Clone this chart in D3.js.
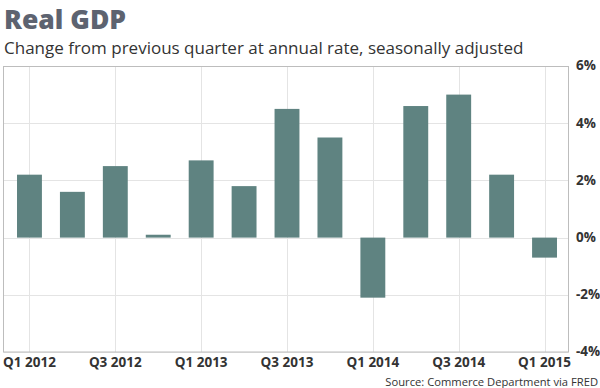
<!DOCTYPE html>
<html>
<head>
  <meta charset="utf-8">
  <script src="https://d3js.org/d3.v7.min.js"></script>
  <style>
    body {
      margin: 0;
      background: #fff;
      font-family: "Open Sans", sans-serif;
    }
    .title { font-weight: 800; fill: #5d6370; }
    .subtitle { fill: #333; }
    .tick-label { font-weight: 700; fill: #333; font-size: 13.5px; }
    .source { fill: #333; font-size: 11.2px; }
  </style>
</head>
<body>
<script>
  // quarters and annualized change in real GDP (%)
  var quarters = ["Q1 2012", "Q2 2012", "Q3 2012", "Q4 2012",
                  "Q1 2013", "Q2 2013", "Q3 2013", "Q4 2013",
                  "Q1 2014", "Q2 2014", "Q3 2014", "Q4 2014",
                  "Q1 2015"];
  var growth = [2.2, 1.6, 2.5, 0.1, 2.7, 1.8, 4.5, 3.5, -2.1, 4.6, 5.0, 2.2, -0.7];
  var yTicks = [6, 4, 2, 0, -2, -4];
  var xTicks = ["Q1 2012", "Q3 2012", "Q1 2013", "Q3 2013", "Q1 2014", "Q3 2014", "Q1 2015"];

  var w = 600, h = 388;
  var plot = { left: 3.5, right: 568.5, top: 66, bottom: 352 };

  var svg = d3.select("body").append("svg")
    .attr("width", w)
    .attr("height", h);

  // titles
  svg.append("text").attr("class", "title")
    .attr("x", 4).attr("y", 29)
    .style("font-size", "26.5px")
    .text("Real GDP");

  svg.append("text").attr("class", "subtitle")
    .attr("x", 4).attr("y", 54)
    .style("font-size", "17px")
    .text("Change from previous quarter at annual rate, seasonally adjusted");

  var x = d3.scaleBand()
    .domain(quarters)
    .range([8, 566])
    .paddingInner(0.42)
    .paddingOuter(0.21);

  var y = d3.scaleLinear()
    .domain([-4, 6])
    .range([plot.bottom, plot.top]);

  // horizontal gridlines
  svg.append("g").selectAll("line")
    .data(yTicks)
    .join("line")
    .attr("x1", plot.left).attr("x2", plot.right)
    .attr("y1", function(d) { return Math.round(y(d)) + 0.5; })
    .attr("y2", function(d) { return Math.round(y(d)) + 0.5; })
    .attr("stroke", "#e4e4e4");

  // vertical gridlines at the labelled quarters
  svg.append("g").selectAll("line")
    .data(xTicks)
    .join("line")
    .attr("x1", function(d) { return Math.round(x(d) + x.bandwidth() / 2) + 0.5; })
    .attr("x2", function(d) { return Math.round(x(d) + x.bandwidth() / 2) + 0.5; })
    .attr("y1", plot.top).attr("y2", plot.bottom)
    .attr("stroke", "#e4e4e4");

  // bars
  svg.append("g").selectAll("rect")
    .data(growth)
    .join("rect")
    .attr("x", function(d, i) { return x(quarters[i]); })
    .attr("width", x.bandwidth())
    .attr("y", function(d) { return y(Math.max(0, d)); })
    .attr("height", function(d) { return Math.abs(y(d) - y(0)); })
    .attr("fill", "#5f8381");

  // plot frame
  svg.append("rect")
    .attr("x", plot.left).attr("y", plot.top + 0.5)
    .attr("width", plot.right - plot.left)
    .attr("height", plot.bottom - plot.top - 0.5)
    .attr("fill", "none")
    .attr("stroke", "#bdbdbd");

  // y axis labels on the right
  svg.append("g").selectAll("text")
    .data(yTicks)
    .join("text")
    .attr("class", "tick-label")
    .attr("x", 576)
    .attr("y", function(d) { return y(d); })
    .attr("dy", "0.32em")
    .text(function(d) { return d + "%"; });

  // x axis labels
  svg.append("g").selectAll("text")
    .data(xTicks)
    .join("text")
    .attr("class", "tick-label")
    .attr("x", function(d) { return x(d) + x.bandwidth() / 2; })
    .attr("y", 367)
    .attr("text-anchor", "middle")
    .text(function(d) { return d; });

  svg.append("text").attr("class", "source")
    .attr("x", 598).attr("y", 385.5)
    .attr("text-anchor", "end")
    .text("Source: Commerce Department via FRED");
</script>
</body>
</html>
